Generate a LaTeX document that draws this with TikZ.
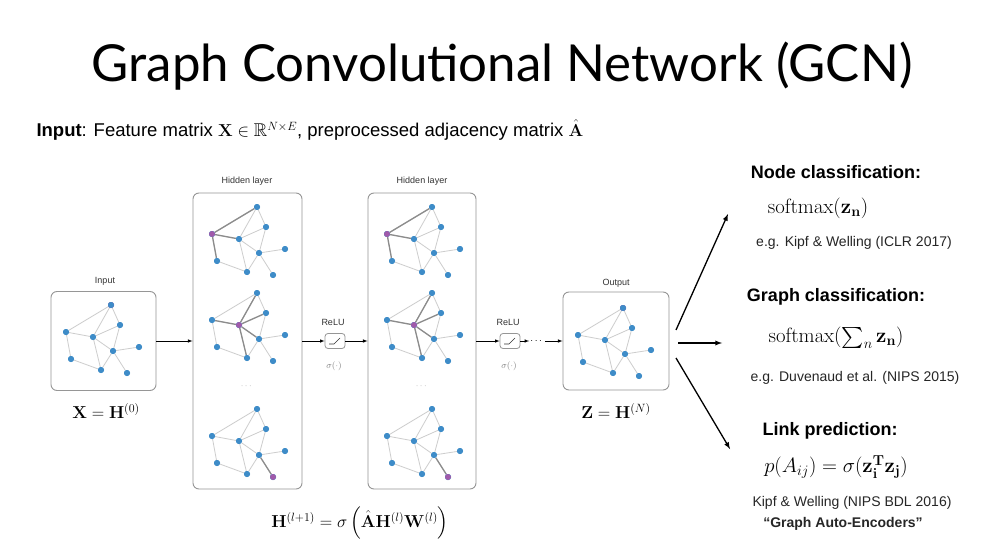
\documentclass[tikz,border=0pt]{standalone}
\usepackage{amsmath,amssymb}
\usepackage[no-math]{fontspec}
\setmainfont{Liberation Sans}
\newfontfamily\titlefont{Lato}
\definecolor{nblue}{RGB}{62,140,200}
\definecolor{npurp}{RGB}{160,90,170}
\definecolor{eg}{RGB}{205,205,205}
\definecolor{edk}{RGB}{140,140,140}
\definecolor{bx}{RGB}{150,150,150}
\begin{document}
\begin{tikzpicture}[x=1pt,y=-1pt,
  gn/.style={circle,fill=nblue,inner sep=0pt,minimum size=6pt},
  gp/.style={circle,fill=npurp,inner sep=0pt,minimum size=6pt},
  ge/.style={draw=eg,line width=0.8pt},
  gd/.style={draw=edk,line width=1.3pt},
  panel/.style={draw=bx,rounded corners=6pt,line width=0.9pt},
  lab/.style={font=\fontsize{9}{10}\selectfont,text=black!80},
  arr/.style={-latex,line width=0.6pt},
  rbox/.style={draw=bx,rounded corners=3pt,minimum width=20pt,minimum height=15pt,inner sep=0pt,line width=0.8pt},
  big/.style={font=\fontsize{18.5}{20}\selectfont},
  res/.style={font=\fontsize{14}{16}\selectfont,text=black!85},
  hd/.style={font=\bfseries\fontsize{18}{20}\selectfont},
  mth/.style={font=\fontsize{21}{24}\selectfont}
]
\useasboundingbox (0,0) rectangle (1000,556);
\fill[white] (0,0) rectangle (1000,556);
\newcommand\gcng[5]{%
 \begin{scope}[shift={(#2,#3)}]
 \foreach \n/\px/\py in {T/0/0,R1/9/20,L/-45/27,C/-18/32,RR/28/42,M/2/46,LL/-40/54,B/-10/65,BR/16/68}
   {\node[gn] (#1\n) at (\px,\py) {};}
 \foreach \a/\b in {T/L,T/C,T/R1,R1/C,R1/M,L/C,L/LL,C/B,LL/B,B/M,M/RR,M/BR,C/M}
   {\path[ge] (#1\a) -- (#1\b);}
 \foreach \a/\b in {#5} {\path[gd] (#1\a) -- (#1\b);}
 \foreach \n in {T,R1,L,C,RR,M,LL,B,BR} {\node[gn] at (#1\n) {};}
 \node[gp] at (#1#4) {};
 \end{scope}}
\node[font=\titlefont\fontsize{51}{55}\selectfont] (title) at (502,66) {Graph Convolutional Network (GCN)};
\node[anchor=west,big] (inp) at (33,130) {\textbf{Input}: Feature matrix $\mathbf{X}\in\mathbb{R}^{N\times E}$, preprocessed adjacency matrix $\hat{\mathbf{A}}$};
\node[panel,minimum width=105pt,minimum height=99pt] (pin) at (103.5,341) {};
\node[panel,minimum width=109pt,minimum height=296pt] (ph1) at (247.5,341) {};
\node[panel,minimum width=108pt,minimum height=296pt] (ph2) at (422,341) {};
\node[panel,minimum width=106pt,minimum height=98pt] (pout) at (616,341) {};
\node[lab] (lin) at (105,281) {Input};
\node[lab] (lh1) at (247,181) {Hidden layer};
\node[lab] (lh2) at (422,181) {Hidden layer};
\node[lab] (lout) at (616,283) {Output};
\gcng{a}{111}{305}{T}{}
\gcng{b}{257}{207}{L}{L/T,L/C,L/LL}
\gcng{c}{257}{293}{C}{C/T,C/R1,C/L,C/M,C/B}
\gcng{d}{257}{409}{BR}{M/BR}
\gcng{e}{432}{207}{L}{L/T,L/C,L/LL}
\gcng{f}{432}{293}{C}{C/T,C/R1,C/L,C/M,C/B}
\gcng{g}{432}{409}{BR}{M/BR}
\gcng{h}{623}{308}{T}{}
\node[gn] at (aT) {};
\node[gn] at (hT) {};
\node[text=gray!70,font=\small] (dots1) at (247,386) {$\cdots$};
\node[text=gray!70,font=\small] (dots2) at (422,386) {$\cdots$};
\node[rbox] (r1) at (335,341) {};
\draw[black!80,line width=0.6pt] ([shift={(-6,3)}]r1.center) -- ([shift={(-1,3)}]r1.center) -- ([shift={(5,-3)}]r1.center);
\node[rbox] (r2) at (510,341) {};
\draw[black!80,line width=0.6pt] ([shift={(-6,3)}]r2.center) -- ([shift={(-1,3)}]r2.center) -- ([shift={(5,-3)}]r2.center);
\node[lab] (rl1) at (333,322) {ReLU};
\node[lab] (rl2) at (508,322) {ReLU};
\node[text=gray,font=\small] (s1) at (334,366) {$\sigma(\cdot)$};
\node[text=gray,font=\small] (s2) at (509,366) {$\sigma(\cdot)$};
\node[inner sep=1pt] (dd) at (537,341) {$\cdots$};
\draw[arr] (pin.east) -- (ph1.west);
\draw[arr] (ph1.east |- r1) -- (r1.west);
\draw[arr] (r1.east) -- (ph2.west |- r1);
\draw[arr] (ph2.east |- r2) -- (r2.west);
\draw[arr] (r2.east) -- (dd.west);
\draw[arr] (dd.east) -- (pout.west);
\node[font=\fontsize{18}{20}\selectfont] (eqx) at (106,411) {$\mathbf{X}=\mathbf{H}^{(0)}$};
\node[font=\fontsize{18}{20}\selectfont] (eqz) at (616,411) {$\mathbf{Z}=\mathbf{H}^{(N)}$};
\node[font=\fontsize{18}{20}\selectfont] (eqh) at (360,523) {$\mathbf{H}^{(l+1)}=\sigma\left(\hat{\mathbf{A}}\mathbf{H}^{(l)}\mathbf{W}^{(l)}\right)$};
\coordinate (o1) at (676,330);
\coordinate (o2) at (678,343);
\coordinate (o3) at (676,358);
\node[hd] (nc) at (836,172) {Node classification:};
\node[mth] (nc2) at (818,208) {$\mathrm{softmax}(\mathbf{z_n})$};
\node[res] (nc3) at (854,243) {e.g. Kipf \& Welling (ICLR 2017)};
\node[hd] (gc) at (836,297) {Graph classification:};
\node[mth] (gc2) at (836,338) {$\mathrm{softmax}(\sum_n \mathbf{z_n})$};
\node[res] (gc3) at (855,378) {e.g. Duvenaud et al. (NIPS 2015)};
\node[hd] (lp) at (830,431) {Link prediction:};
\node[mth] (lp2) at (836,467) {$p(A_{ij})=\sigma(\mathbf{z_i^T}\mathbf{z_j})$};
\node[res] (lp3) at (852,503) {Kipf \& Welling (NIPS BDL 2016)};
\node[res,font=\bfseries\fontsize{14}{16}\selectfont] (lp4) at (843,524) {``Graph Auto-Encoders''};
\coordinate (t1) at (728,214);
\coordinate (t2) at (722,343);
\coordinate (t3) at (730,449);
\draw[-latex,line width=1.3pt] (o1) -- (t1);
\draw[-latex,line width=1.3pt] (o2) -- (t2);
\draw[-latex,line width=1.3pt] (o3) -- (t3);
\end{tikzpicture}
\end{document}
